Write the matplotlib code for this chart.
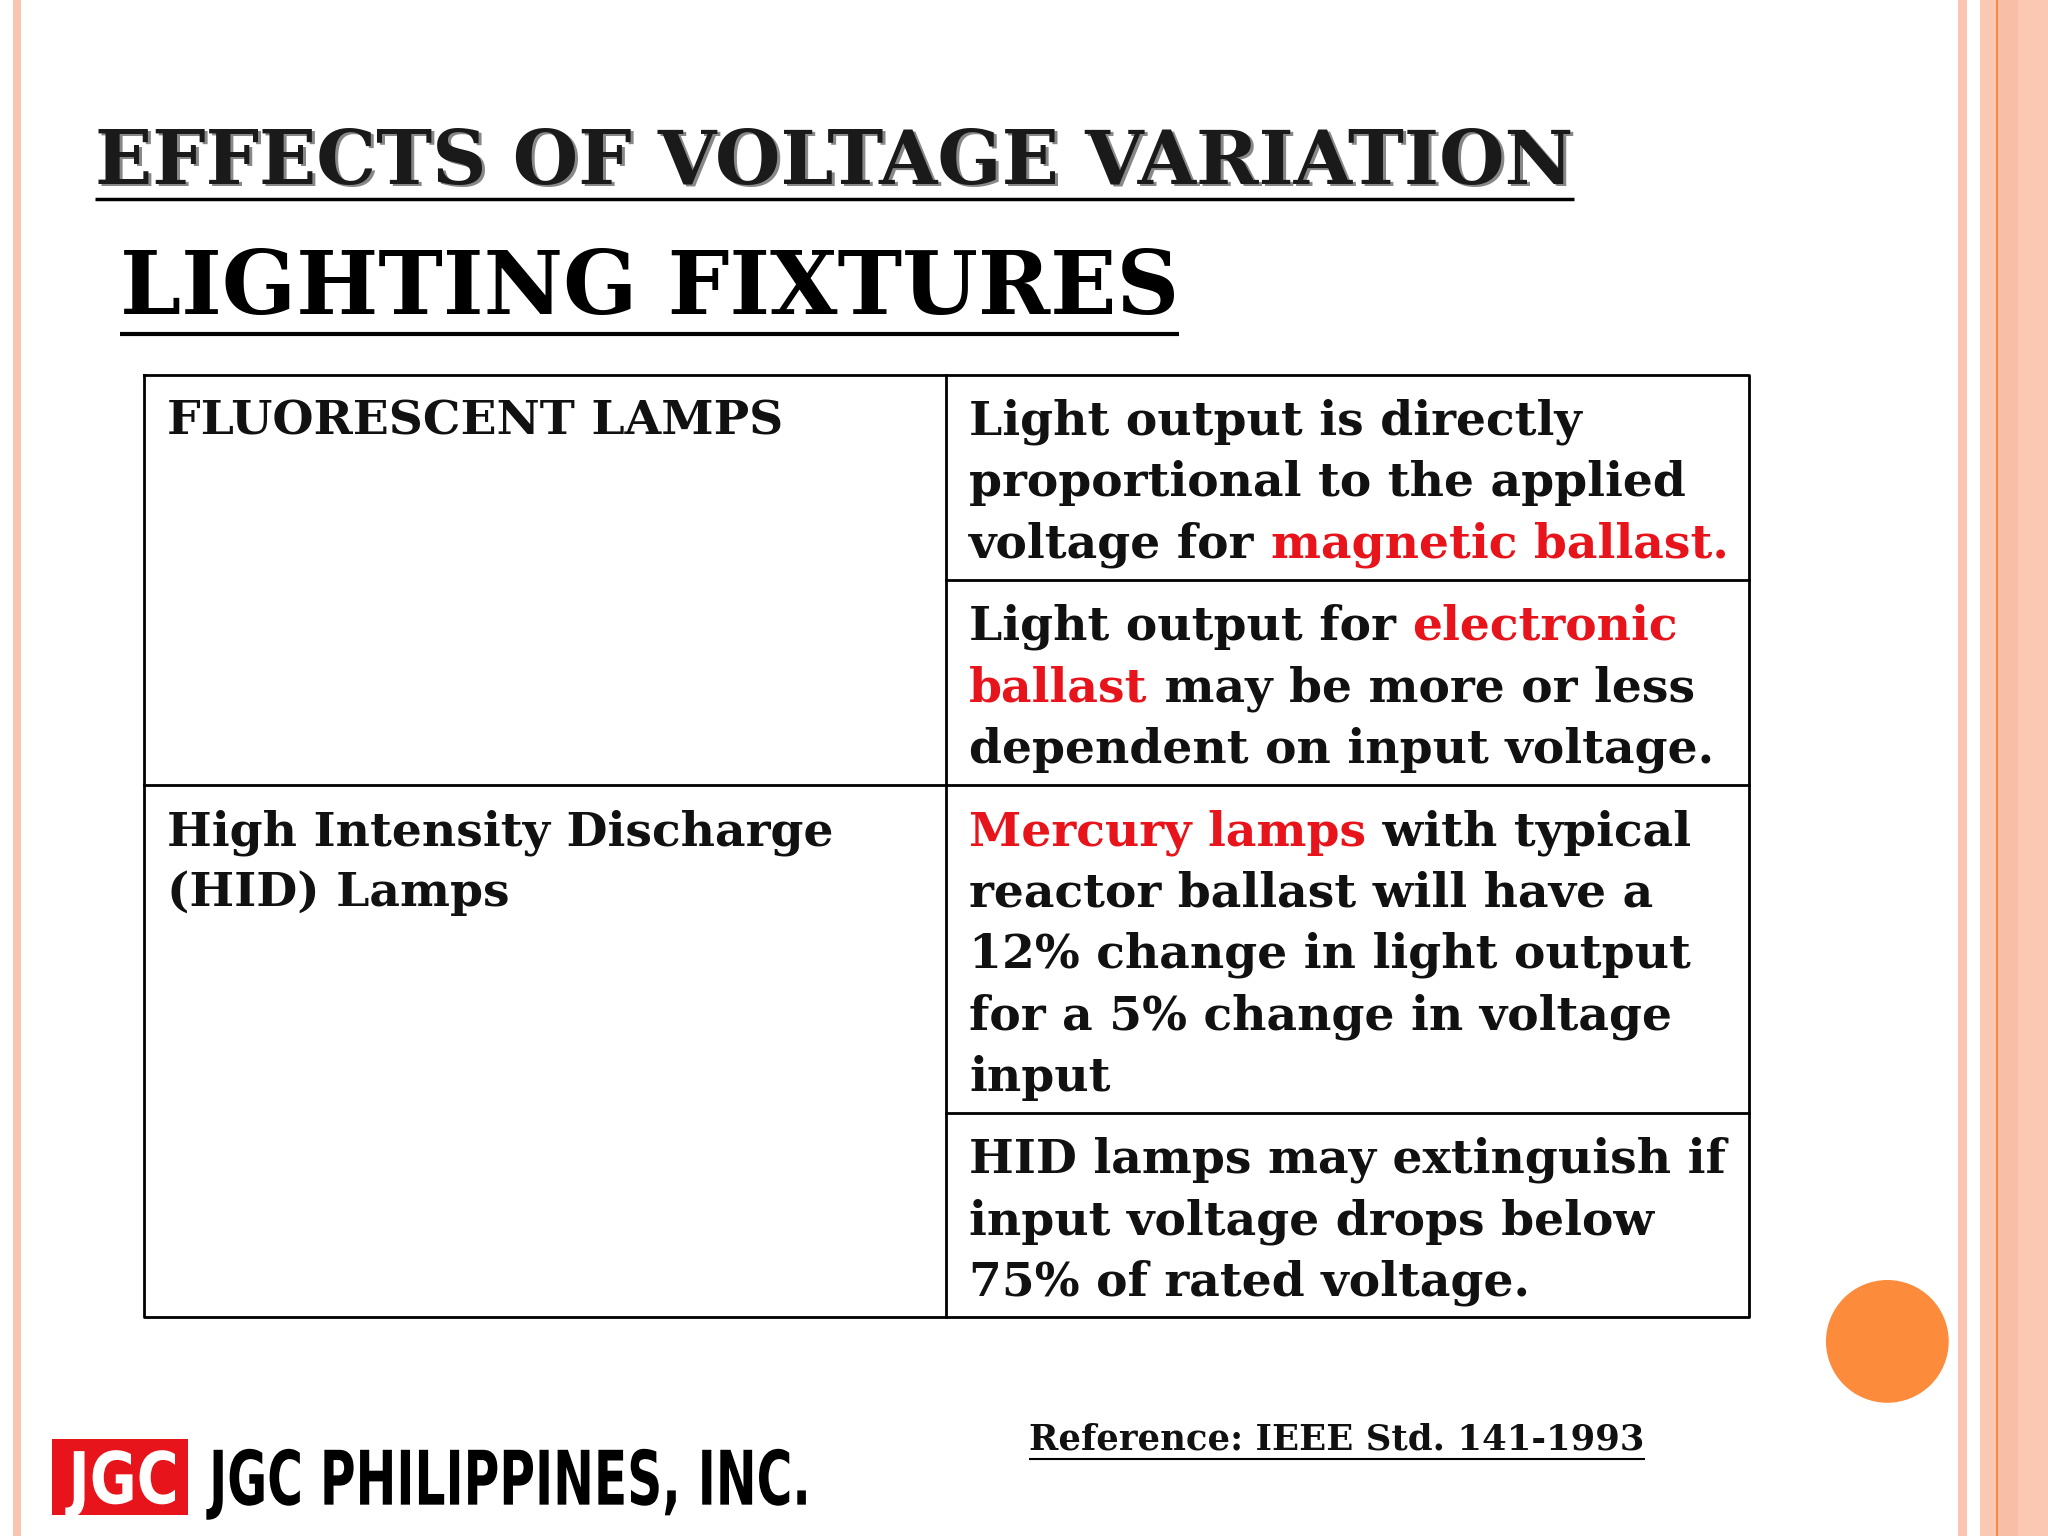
import matplotlib
matplotlib.use("Agg")
import matplotlib.pyplot as plt
from matplotlib.patches import Rectangle, Circle, PathPatch
from matplotlib.textpath import TextPath
from matplotlib.font_manager import FontProperties
from matplotlib.transforms import Affine2D

title1 = "EFFECTS OF VOLTAGE VARIATION"
title2 = "LIGHTING FIXTURES"
left_cells = ["FLUORESCENT LAMPS", "High Intensity Discharge\n(HID) Lamps"]
right_cells = [
    [[("Light output is directly", "k")], [("proportional to the applied", "k")],
     [("voltage for ", "k"), ("magnetic ballast.", "r")]],
    [[("Light output for ", "k"), ("electronic", "r")],
     [("ballast", "r"), (" may be more or less", "k")],
     [("dependent on input voltage.", "k")]],
    [[("Mercury lamps", "r"), (" with typical", "k")], [("reactor ballast will have a", "k")],
     [("12% change in light output", "k")], [("for a 5% change in voltage", "k")], [("input", "k")]],
    [[("HID lamps may extinguish if", "k")], [("input voltage drops below", "k")],
     [("75% of rated voltage.", "k")]],
]
reference = "Reference: IEEE Std. 141-1993"
logo_box = "JGC"
logo_text = "JGC PHILIPPINES, INC."

RED = "#e8141c"
fig = plt.figure(figsize=(20.48, 15.36), dpi=100)
ax = fig.add_axes([0, 0, 1, 1])
ax.set_xlim(0, 1568); ax.set_ylim(1176, 0); ax.axis("off")
fig.patch.set_facecolor("white")
r = fig.canvas.get_renderer()

ax.add_patch(Rectangle((10, 0), 6, 1176, color="#f9c4b0", lw=0))
ax.add_patch(Rectangle((1499, 0), 7, 1176, color="#fbc5b1", lw=0))
ax.add_patch(Rectangle((1516, 0), 52, 1176, color="#fbc9b3", lw=0))
ax.add_patch(Rectangle((1529, 0), 16, 1176, color="#f8bea6", lw=0))
ax.add_patch(Rectangle((1528, 0), 2, 1176, color="#f58a45", lw=0))

def ext(t):
    bb = t.get_window_extent(r)
    k = 1568 / fig.bbox.width
    return bb.x0 * k, bb.x1 * k

def fit(t, target):
    x0, x1 = ext(t)
    t.set_fontsize(t.get_fontsize() * target / (x1 - x0))

def underline(t, y, lw):
    x0, x1 = ext(t)
    ax.plot([x0, x1], [y, y], color="k", lw=lw, solid_capstyle="butt")

def boxed_text(s, x0, x1, ytop, ybot, color):
    fp = FontProperties(family="DejaVu Sans", weight="bold")
    p = TextPath((0, 0), s, size=10, prop=fp)
    ext_ = p.get_extents()
    cap = TextPath((0, 0), "H", size=10, prop=fp).get_extents()
    sx = (x1 - x0) / ext_.width
    sy = (ybot - ytop) / cap.height
    tr = Affine2D().translate(-ext_.x0, 0).scale(sx, -sy).translate(x0, ybot)
    ax.add_patch(PathPatch(tr.transform_path(p), color=color, lw=0))

serif = "DejaVu Serif"
ts = ax.text(75, 127, title1, fontsize=50, fontweight="bold", family=serif, va="center", color="#888888", zorder=0)
t = ax.text(73, 125, title1, fontsize=50, fontweight="bold", family=serif, va="center", color="#1a1a1a")
fit(t, 1133); fit(ts, 1133)
underline(t, 152, 2.5)
t = ax.text(92, 222, title2, fontsize=60, fontweight="bold", family=serif, va="center")
fit(t, 811)
underline(t, 256, 3)

X0, XM, X1 = 110, 724, 1339
ys = [287, 444, 601, 852, 1008]
lk = dict(color="k", lw=2)
ax.plot([X0, X1, X1, X0, X0], [ys[0], ys[0], ys[-1], ys[-1], ys[0]], **lk)
ax.plot([XM, XM], [ys[0], ys[-1]], **lk)
ax.plot([X0, X1], [ys[2], ys[2]], **lk)
ax.plot([XM, X1], [ys[1], ys[1]], **lk)
ax.plot([XM, X1], [ys[3], ys[3]], **lk)

fs = 34
tf = dict(fontsize=fs, fontweight="bold", family="DejaVu Serif", va="baseline")
ls = 47
for i, cell in enumerate(left_cells):
    for j, line in enumerate(cell.split("\n")):
        ax.text(128, [ys[0], ys[2]][i] + 46 + j * ls, line, color="#111111", **tf)
for i, cell in enumerate(right_cells):
    for j, line in enumerate(cell):
        x = 742
        for seg, c in line:
            t = ax.text(x, ys[i] + 46 + j * ls, seg, color=RED if c == "r" else "#111111", **tf)
            x0, x1 = ext(t)
            x += x1 - x0

t = ax.text(788, 1102, reference, fontsize=27, fontweight="bold", family=serif, va="center", color="#111111")
fit(t, 470)
underline(t, 1117, 1.5)

ax.add_patch(Circle((1445, 1027), 47, color="#fd8b3c", lw=0))

ax.add_patch(Rectangle((40, 1102), 104, 58, color=RED, lw=0))
boxed_text(logo_box, 50, 134, 1111, 1151, "white")
boxed_text(logo_text, 158, 617, 1110, 1152, "black")

fig.savefig("out.png", dpi=100, facecolor="white")
